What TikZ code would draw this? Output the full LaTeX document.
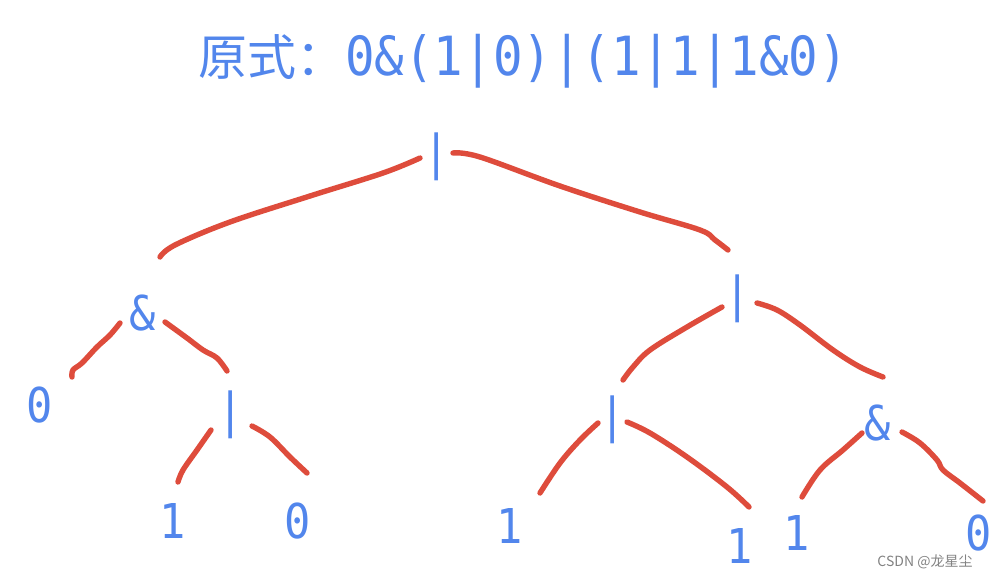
\documentclass[tikz,border=0pt]{standalone}
\usepackage{fontspec}
\newfontfamily\monof[FakeStretch=0.91]{DejaVu Sans Mono}
\newfontfamily\cjk{Noto Sans CJK SC}
\definecolor{tblue}{RGB}{82,134,236}
\definecolor{tred}{RGB}{222,76,60}
\definecolor{wgray}{RGB}{130,130,130}
\begin{document}
\begin{tikzpicture}[x=1pt,y=-1pt,
  sym/.style={anchor=base,inner sep=0pt,text=tblue,font=\monof\fontsize{48}{48}\selectfont},
  edge/.style={draw=tred,line width=5.4pt,line cap=round,line join=round}]
\useasboundingbox (0,0) rectangle (991,578);
% title
\node[anchor=base west,inner sep=0pt,text=tblue] (title) at (198,76)
  {{\cjk\fontsize{49}{49}\selectfont 原式：}{\monof\fontsize{54}{54}\selectfont 0\&(1|0)|(1|1|1\&0)}};
% tree nodes
\node[sym] (root) at (437,169) {|};
\node[sym] (andL) at (143,330) {\&};
\node[sym] (zL) at (40,422) {0};
\node[sym] (orL) at (231,427) {|};
\node[sym] (oneA) at (173,538) {1};
\node[sym] (zA) at (298,538) {0};
\node[sym] (orR) at (738,311) {|};
\node[sym] (orM) at (613,432) {|};
\node[sym] (andR) at (878,440) {\&};
\node[sym] (oneB) at (510,543) {1};
\node[sym] (oneC) at (740,563) {1};
\node[sym] (oneD) at (797,550) {1};
\node[sym] (zB) at (979,550) {0};
% watermark
\node[anchor=base,inner sep=0pt,text=wgray,font=\cjk\fontsize{14}{14}\selectfont] (wm) at (925,566) {CSDN @龙星尘};
% connectors (hand drawn strokes)
\draw[edge] plot[smooth,tension=0.6] coordinates {(420,158) (383,173) (310,196) (230,222) (175,245) (160,257)};
\draw[edge] plot[smooth,tension=0.6] coordinates {(453,153) (480,157) (560,186) (640,212) (700,230) (715,240) (728,250)};
\draw[edge] plot[smooth,tension=0.6] coordinates {(120,323) (110,335) (97,347) (82,363) (73,370) (72,377)};
\draw[edge] plot[smooth,tension=0.6] coordinates {(165,322) (187,338) (203,350) (217,358) (227,371)};
\draw[edge] plot[smooth,tension=0.6] coordinates {(211,430) (197,450) (183,470) (178,482)};
\draw[edge] plot[smooth,tension=0.6] coordinates {(252,426) (270,437) (290,457) (307,473)};
\draw[edge] plot[smooth,tension=0.6] coordinates {(722,307) (687,327) (650,350) (633,367) (623,380)};
\draw[edge] plot[smooth,tension=0.6] coordinates {(757,303) (777,310) (800,325) (833,350) (860,367) (883,377)};
\draw[edge] plot[smooth,tension=0.6] coordinates {(598,423) (580,440) (560,463) (540,493)};
\draw[edge] plot[smooth,tension=0.6] coordinates {(627,422) (650,433) (687,457) (727,487) (749,507)};
\draw[edge] plot[smooth,tension=0.6] coordinates {(862,433) (843,450) (820,470) (802,497)};
\draw[edge] plot[smooth,tension=0.6] coordinates {(902,432) (920,443) (937,460) (943,470) (960,483) (983,501)};
\end{tikzpicture}
\end{document}
